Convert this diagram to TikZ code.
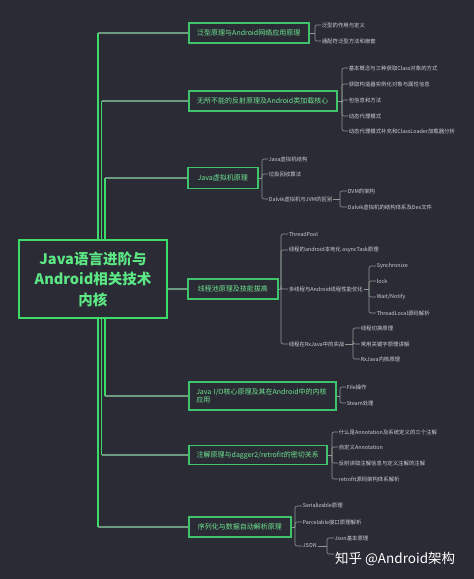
\documentclass[tikz,border=0pt]{standalone}
\usepackage{fontspec}
\setmainfont{Noto Sans CJK SC}
\definecolor{bgc}{HTML}{2B2B35}
\definecolor{trunkgreen}{HTML}{3DDC6A}
\definecolor{dimgreen}{HTML}{6E9A80}
\definecolor{brgray}{HTML}{8E9C94}
\definecolor{boxgreen}{HTML}{3FC46C}
\definecolor{boxtext}{HTML}{6EE690}
\definecolor{leafgray}{HTML}{CFCFD2}
\definecolor{roottext}{HTML}{5CE884}
\tikzset{
  trunk/.style={draw=trunkgreen, line width=1.4pt},
  hl/.style={draw=dimgreen, line width=1.2pt},
  br/.style={draw=brgray, line width=0.6pt, rounded corners=2pt},
  branchbox/.style={draw=boxgreen, line width=1.5pt, fill=bgc, text=boxtext,
    font=\fontsize{7}{8.5}\selectfont, minimum height=20pt, inner xsep=4pt, anchor=west},
  leaf/.style={text=leafgray, font=\fontsize{5.4}{6.5}\selectfont, anchor=west, inner sep=0.6pt},
  rootbox/.style={draw=trunkgreen, line width=2pt, fill=bgc, text=roottext,
    font=\fontsize{14.5}{20.5}\selectfont\bfseries, align=center, minimum width=148pt, minimum height=78pt},
  wm/.style={text=white, font=\fontsize{13.5}{15}\selectfont, anchor=west, inner sep=0pt}
}
\begin{document}
\begin{tikzpicture}[x=1pt,y=-1pt]
\fill[bgc] (0,0) rectangle (474,579);
\useasboundingbox (0,0) rectangle (474,579);

% root
\node[rootbox] (root) at (93,279) {Java语言进阶与\\Android相关技术\\内核};

% branch boxes
\node[branchbox, minimum width=120pt] (b1) at (188,33) {泛型原理与Android网络应用原理};
\node[branchbox, minimum width=148pt] (b2) at (188,101) {无所不能的反射原理及Android类加载核心};
\node[branchbox, minimum width=70pt, minimum height=21pt] (b3) at (187,178) {Java虚拟机原理};
\node[branchbox, minimum width=90pt] (b4) at (187,289) {线程池原理及技能拔高};
\node[branchbox, minimum width=147pt, minimum height=28pt, align=left, text width=132pt, inner xsep=7pt] (b5) at (188,396) {Java I/O核心原理及其在Android中的内核\\应用};
\node[branchbox, minimum width=138pt, minimum height=19pt] (b6) at (188,455) {注解原理与dagger2/retrofit的密切关系};
\node[branchbox, minimum width=102pt] (b7) at (188,527) {序列化与数据自动解析原理};

% trunk
\coordinate (ta) at (98,0);
\coordinate (tb) at (101.5,0);
\coordinate (tc) at (105,0);
\draw[trunk] (root.north -| ta) -- (ta |- b1.west);
\draw[hl] (ta |- b1.west) -- (b1.west);
\draw[trunk] (root.north -| tb) -- (tb |- b2.west);
\draw[hl] (tb |- b2.west) -- (b2.west);
\draw[trunk] (root.north -| tc) -- (tc |- b3.west);
\draw[hl] (tc |- b3.west) -- (b3.west);
\draw[hl] (root.east |- b4.west) -- (b4.west);
\draw[trunk] (root.south -| tc) -- (tc |- b5.west);
\draw[hl] (tc |- b5.west) -- (b5.west);
\draw[trunk] (root.south -| tb) -- (tb |- b6.west);
\draw[hl] (tb |- b6.west) -- (b6.west);
\draw[trunk] (root.south -| ta) -- (ta |- b7.west);
\draw[hl] (ta |- b7.west) -- (b7.west);

% branch 1
\node[leaf] (c11) at (321,25) {泛型的作用与定义};
\node[leaf] (c12) at (321,41) {通配符泛型方法和嵌套};
\coordinate (k1) at (315,33);
\draw[br] (b1.east) -- (k1);
\foreach \c in {c11,c12} \draw[br] (k1) |- (\c.west);

% branch 2
\node[leaf] (c21) at (348,68) {基本概念与三种获取Class对象的方式};
\node[leaf] (c22) at (348,84) {获取构造器实例化对象与属性信息};
\node[leaf] (c23) at (348,100) {包信息和方法};
\node[leaf] (c24) at (348,116) {动态代理模式};
\node[leaf] (c25) at (348,131) {动态代理模式补充和ClassLoader加载器分析};
\coordinate (k2) at (342,101);
\draw[br] (b2.east) -- (k2);
\foreach \c in {c21,c22,c23,c24,c25} \draw[br] (k2) |- (\c.west);

% branch 3
\node[leaf] (c31) at (268,159) {Java虚拟机结构};
\node[leaf] (c32) at (268,174) {垃圾回收算法};
\node[leaf] (c33) at (268,199) {Dalvik虚拟机与JVM的区别};
\coordinate (k3) at (262,178);
\draw[br] (b3.east) -- (k3);
\foreach \c in {c31,c32,c33} \draw[br] (k3) |- (\c.west);
\node[leaf] (c331) at (347,191) {DVM的架构};
\node[leaf] (c332) at (347,207) {Dalvik虚拟机的结构体系及Dex文件};
\coordinate (k33) at (340,199);
\draw[br] (c33.east) -- (k33);
\foreach \c in {c331,c332} \draw[br] (k33) |- (\c.west);

% branch 4
\node[leaf] (c41) at (288,234) {ThreadPool};
\node[leaf] (c42) at (288,250) {线程的android本地化 asyncTask原理};
\node[leaf] (c43) at (288,289) {多线程与Android线程性能优化};
\node[leaf] (c44) at (288,344) {线程在RxJava中的实战};
\coordinate (k4) at (281,289);
\draw[br] (b4.east) -- (k4);
\foreach \c in {c41,c42,c43,c44} \draw[br] (k4) |- (\c.west);
\node[leaf] (c431) at (376,266) {Synchronize};
\node[leaf] (c432) at (376,281) {lock};
\node[leaf] (c433) at (376,297) {Wait/Notify};
\node[leaf] (c434) at (376,313) {ThreadLocal源码解析};
\coordinate (k43) at (369,289);
\draw[br] (c43.east) -- (k43);
\foreach \c in {c431,c432,c433,c434} \draw[br] (k43) |- (\c.west);
\node[leaf] (c441) at (360,328) {线程切换原理};
\node[leaf] (c442) at (360,344) {常用关键字原理讲解};
\node[leaf] (c443) at (360,359) {RxJava内核原理};
\coordinate (k44) at (353,344);
\draw[br] (c44.east) -- (k44);
\foreach \c in {c441,c442,c443} \draw[br] (k44) |- (\c.west);

% branch 5
\node[leaf] (c51) at (346,387) {File操作};
\node[leaf] (c52) at (346,403) {Steam处理};
\coordinate (k5) at (340,396);
\draw[br] (b5.east) -- (k5);
\foreach \c in {c51,c52} \draw[br] (k5) |- (\c.west);

% branch 6
\node[leaf] (c61) at (338,432) {什么是Annotation及系统定义的三个注解};
\node[leaf] (c62) at (338,447) {自定义Annotation};
\node[leaf] (c63) at (338,463) {反射读取注解信息与定义注解的注解};
\node[leaf] (c64) at (338,479) {retrofit源码架构体系解析};
\coordinate (k6) at (332,455);
\draw[br] (b6.east) -- (k6);
\foreach \c in {c61,c62,c63,c64} \draw[br] (k6) |- (\c.west);

% branch 7
\node[leaf] (c71) at (302,506) {Serializable原理};
\node[leaf] (c72) at (302,522) {Parcelable接口原理解析};
\node[leaf] (c73) at (302,546) {JSON};
\coordinate (k7) at (295,527);
\draw[br] (b7.east) -- (k7);
\foreach \c in {c71,c72,c73} \draw[br] (k7) |- (\c.west);
\node[leaf] (c731) at (334,538) {Json基本原理};
\coordinate (c732) at (334,554);
\coordinate (k73) at (327,546);
\draw[br] (c73.east) -- (k73);
\draw[br] (k73) |- (c731.west);
\draw[br] (k73) |- (c732);

% watermark
\node[wm] (wmk) at (335,559) {知乎 @Android架构};
\end{tikzpicture}
\end{document}
